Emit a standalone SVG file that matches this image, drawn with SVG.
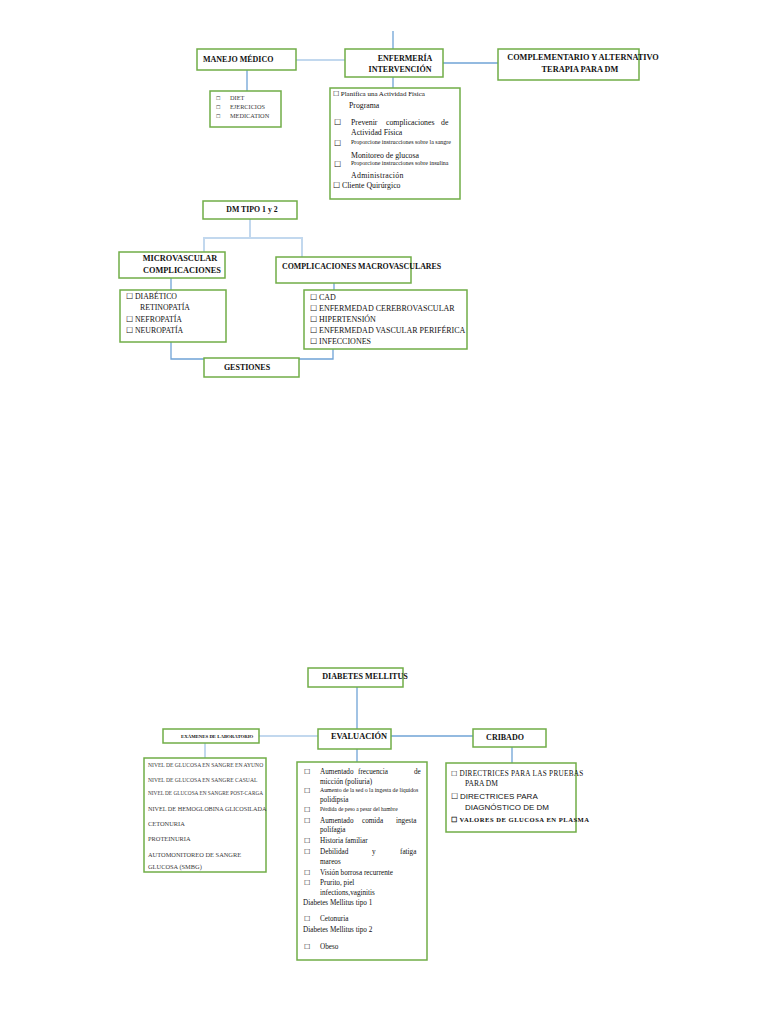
<svg xmlns="http://www.w3.org/2000/svg" width="768" height="1024" viewBox="0 0 768 1024">
<style>
.box{fill:#fff;stroke:#70ad47;stroke-width:1.5}
.c{fill:none;stroke:#6fa3d6;stroke-width:1.3}
.cf{fill:none;stroke:#c2d8ee;stroke-width:2}
text{font-family:"Liberation Serif","Times New Roman",serif;fill:#111}
.h{font-weight:bold}
.g{fill:#3a3a3a}
.sans{font-family:"Liberation Sans",Arial,sans-serif}
</style>
<rect width="768" height="1024" fill="#fff"/>
<g id="connectors">
<line class="c" x1="393" y1="31" x2="393" y2="49"/>
<line class="cf" x1="296" y1="60" x2="345" y2="60"/>
<line class="c" x1="443" y1="63" x2="498" y2="63"/>
<line class="c" x1="247" y1="70" x2="247" y2="91"/>
<line class="c" x1="393" y1="77" x2="393" y2="88"/>
<polyline class="cf" points="250,219 250,238"/>
<polyline class="cf" points="204,252 204,238 302,238 302,257"/>
<line class="c" x1="171" y1="278" x2="171" y2="290"/>
<line class="c" x1="334" y1="283" x2="334" y2="290"/>
<polyline class="c" points="171,342 171,359 204,359"/>
<polyline class="c" points="333,349 333,359 299,359"/>
<line class="c" x1="357" y1="687" x2="357" y2="729"/>
<line class="cf" x1="259" y1="736" x2="318" y2="736"/>
<line class="cf" x1="205" y1="743" x2="205" y2="758"/>
<line class="c" x1="391" y1="736" x2="473" y2="736"/>
<line class="c" x1="512" y1="747" x2="512" y2="763"/>
<line class="c" x1="357" y1="749" x2="357" y2="762"/>
</g>
<g id="manejo">
<rect class="box" x="197" y="49" width="99" height="21"/>
<text class="h" x="203" y="62" font-size="8">MANEJO MÉDICO</text>
</g>
<g id="enfermeria">
<rect class="box" x="345" y="49" width="98" height="28"/>
<text class="h" x="405" y="61" text-anchor="middle" font-size="8">ENFERMERÍA</text>
<text class="h" x="400" y="72" text-anchor="middle" font-size="8">INTERVENCIÓN</text>
</g>
<g id="complementario">
<rect class="box" x="498" y="49" width="141" height="31"/>
<text class="h" x="583" y="60" text-anchor="middle" font-size="8.3">COMPLEMENTARIO Y ALTERNATIVO</text>
<text class="h" x="580" y="72" text-anchor="middle" font-size="8.3">TERAPIA PARA DM</text>
</g>
<g id="manejo-list">
<rect class="box" x="210" y="91" width="71" height="36"/>
<text class="g" x="216" y="100" font-size="5">☐</text><text class="g" x="230" y="100" font-size="6.3">DIET</text>
<text class="g" x="216" y="109" font-size="5">☐</text><text class="g" x="230" y="109" font-size="6.3">EJERCICIOS</text>
<text class="g" x="216" y="118" font-size="5">☐</text><text class="g" x="230" y="118" font-size="6.3">MEDICATION</text>
</g>
<g id="enfermeria-list">
<rect class="box" x="330" y="88" width="130" height="111"/>
<text x="333" y="96" font-size="7">☐ Planifica una Actividad Física</text>
<text x="349" y="108" font-size="7.8">Programa</text>
<text x="334" y="125" font-size="7.8">☐</text>
<text x="351" y="125" font-size="7.8">Prevenir</text>
<text x="386" y="125" font-size="7.8">complicaciones</text>
<text x="441" y="125" font-size="7.8">de</text>
<text x="351" y="135" font-size="7.8">Actividad Física</text>
<text x="334" y="146" font-size="7.8">☐</text>
<text x="351" y="144" font-size="6">Proporcione instrucciones sobre la sangre</text>
<text x="351" y="158" font-size="7.8">Monitoreo de glucosa</text>
<text x="334" y="167" font-size="7.8">☐</text>
<text x="351" y="165" font-size="6">Proporcione instrucciones sobre insulina</text>
<text x="351" y="178" font-size="7.8" letter-spacing="0.3">Administración</text>
<text x="333" y="188" font-size="7.8">☐ Cliente Quirúrgico</text>
</g>
<g id="dmtipo">
<rect class="box" x="203" y="201" width="94" height="18"/>
<text class="h" x="252" y="212" text-anchor="middle" font-size="7.8">DM TIPO 1 y 2</text>
</g>
<g id="micro">
<rect class="box" x="119" y="252" width="106" height="26"/>
<text class="h" x="180" y="261" text-anchor="middle" font-size="8.3">MICROVASCULAR</text>
<text class="h" x="143" y="273" font-size="8.3">COMPLICACIONES</text>
</g>
<g id="macro">
<rect class="box" x="276" y="257" width="135" height="26"/>
<text class="h" x="282" y="269" font-size="7.9">COMPLICACIONES MACROVASCULARES</text>
</g>
<g id="micro-list">
<rect class="box" x="120" y="290" width="106" height="52"/>
<text x="126" y="299" font-size="7.8">☐ DIABÉTICO</text>
<text x="140" y="310" font-size="7.8">RETINOPATÍA</text>
<text x="126" y="322" font-size="7.8">☐ NEFROPATÍA</text>
<text x="126" y="333" font-size="7.8">☐ NEUROPATÍA</text>
</g>
<g id="macro-list">
<rect class="box" x="304" y="290" width="163" height="59"/>
<text x="310" y="300" font-size="8">☐ CAD</text>
<text x="310" y="311" font-size="8">☐ ENFERMEDAD CEREBROVASCULAR</text>
<text x="310" y="322" font-size="8">☐ HIPERTENSIÓN</text>
<text x="310" y="333" font-size="8">☐ ENFERMEDAD VASCULAR PERIFÉRICA</text>
<text x="310" y="344" font-size="8">☐ INFECCIONES</text>
</g>
<g id="gestiones">
<rect class="box" x="204" y="358" width="95" height="19"/>
<text class="h" x="247" y="370" text-anchor="middle" font-size="8">GESTIONES</text>
</g>
<g id="diabetes">
<rect class="box" x="308" y="668" width="95" height="19"/>
<text class="h" x="365" y="679" text-anchor="middle" font-size="8.1">DIABETES MELLITUS</text>
</g>
<g id="evaluacion">
<rect class="box" x="318" y="729" width="73" height="20"/>
<text class="h" x="359" y="739" text-anchor="middle" font-size="8.4">EVALUACIÓN</text>
</g>
<g id="examenes">
<rect class="box" x="163" y="729" width="96" height="14"/>
<text class="h" x="181" y="738" font-size="4.8">EXÁMENES DE LABORATORIO</text>
</g>
<g id="cribado">
<rect class="box" x="473" y="729" width="73" height="18"/>
<text class="h" x="505" y="740" text-anchor="middle" font-size="8">CRIBADO</text>
</g>
<g id="lab-list">
<rect class="box" x="144" y="758" width="122" height="114"/>
<text class="g" x="148" y="767" font-size="5.6">NIVEL DE GLUCOSA EN SANGRE EN AYUNO</text>
<text class="g" x="148" y="782" font-size="5.6">NIVEL DE GLUCOSA EN SANGRE CASUAL</text>
<text class="g" x="148" y="795" font-size="5.3">NIVEL DE GLUCOSA EN SANGRE POST-CARGA</text>
<text class="g" x="148" y="811" font-size="6.2">NIVEL DE HEMOGLOBINA GLICOSILADA</text>
<text class="g" x="148" y="826" font-size="6.4">CETONURIA</text>
<text class="g" x="148" y="841" font-size="6.4">PROTEINURIA</text>
<text class="g" x="148" y="857" font-size="6.4">AUTOMONITOREO DE SANGRE</text>
<text class="g" x="148" y="869" font-size="6.4">GLUCOSA (SMBG)</text>
</g>
<g id="evaluacion-list">
<rect class="box" x="297" y="762" width="130" height="198"/>
<text x="304" y="774" font-size="7.2">☐</text>
<text x="320" y="774" font-size="7.2">Aumentado</text>
<text x="358" y="774" font-size="7.2">frecuencia</text>
<text x="414" y="774" font-size="7.2">de</text>
<text x="320" y="784" font-size="7.2">micción (poliuria)</text>
<text x="304" y="793" font-size="7.2">☐</text>
<text x="320" y="792" font-size="5.8">Aumento de la sed o la ingesta de líquidos</text>
<text x="320" y="802" font-size="7.2">polidipsia</text>
<text x="304" y="812" font-size="7.2">☐</text>
<text x="320" y="811" font-size="5.5">Pérdida de peso a pesar del hambre</text>
<text x="304" y="823" font-size="7.2">☐</text>
<text x="320" y="823" font-size="7.2">Aumentado</text>
<text x="362" y="823" font-size="7.2">comida</text>
<text x="396" y="823" font-size="7.2">ingesta</text>
<text x="320" y="832" font-size="7.2">polifagia</text>
<text x="304" y="843" font-size="7.2">☐</text>
<text x="320" y="843" font-size="7.2">Historia familiar</text>
<text x="304" y="854" font-size="7.2">☐</text>
<text x="320" y="854" font-size="7.2">Debilidad</text>
<text x="372" y="854" font-size="7.2">y</text>
<text x="400" y="854" font-size="7.2">fatiga</text>
<text x="320" y="864" font-size="7.2">mareos</text>
<text x="304" y="875" font-size="7.2">☐</text>
<text x="320" y="875" font-size="7.2">Visión borrosa recurrente</text>
<text x="304" y="885" font-size="7.2">☐</text>
<text x="320" y="885" font-size="7.2">Prurito, piel</text>
<text x="320" y="895" font-size="7.2">infections,vaginitis</text>
<text x="303" y="905" font-size="7.2">Diabetes Mellitus tipo 1</text>
<text x="304" y="921" font-size="7.2">☐</text>
<text x="320" y="921" font-size="7.2">Cetonuria</text>
<text x="303" y="932" font-size="7.2">Diabetes Mellitus tipo 2</text>
<text x="304" y="949" font-size="7.2">☐</text>
<text x="320" y="949" font-size="7.2">Obeso</text>
</g>
<g id="cribado-list">
<rect class="box" x="446" y="763" width="130" height="69"/>
<text x="451" y="776" font-size="7.2" letter-spacing="0.3">☐ DIRECTRICES PARA LAS PRUEBAS</text>
<text x="465" y="786" font-size="7.5">PARA DM</text>
<text x="451" y="799" font-size="8.3">☐ <tspan class="sans" font-size="8">DIRECTRICES PARA</tspan></text>
<text class="sans" x="465" y="810" font-size="8">DIAGNÓSTICO DE DM</text>
<text class="h" x="451" y="822" font-size="6.6" letter-spacing="0.5">☐ VALORES DE GLUCOSA EN PLASMA</text>
</g>
</svg>
